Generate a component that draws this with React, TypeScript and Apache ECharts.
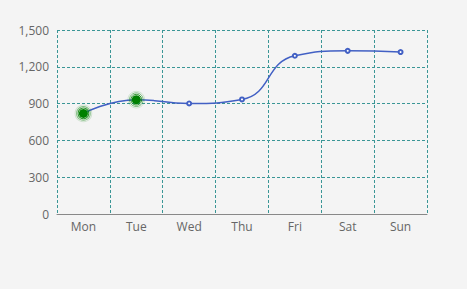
import React, { useEffect, useRef } from "react";
import * as echarts from "echarts";

const categories = ["Mon", "Tue", "Wed", "Thu", "Fri", "Sat", "Sun"];
const values = [820, 932, 901, 934, 1290, 1330, 1320];
const highlightCategories = ["Mon", "Tue"];
const highlightValues = [820, 932];

export default function App() {
  const ref = useRef<HTMLDivElement>(null);
  useEffect(() => {
    document.body.style.margin = "0";
    const chart = echarts.init(ref.current!, null, { renderer: "svg" });
    const split = { show: true, lineStyle: { color: "#3a9696", type: [3, 2] as any } };
    chart.setOption({
      animation: false,
      backgroundColor: "#f4f4f4",
      grid: { left: 57, right: 40, top: 30, bottom: 75 },
      xAxis: {
        type: "category",
        data: categories,
        boundaryGap: true,
        axisLine: { lineStyle: { color: "#888" } },
        axisTick: { lineStyle: { color: "#888" } },
        axisLabel: { color: "#666", fontSize: 12, fontFamily: "Open Sans", margin: 6 },
        splitLine: split,
      },
      yAxis: {
        type: "value",
        min: 0,
        max: 1500,
        interval: 300,
        axisLine: { show: false },
        axisTick: { show: false },
        axisLabel: { color: "#666", fontSize: 12, fontFamily: "Open Sans" },
        splitLine: split,
      },
      series: [
        {
          type: "line",
          data: values,
          smooth: true,
          symbol: "emptyCircle",
          symbolSize: 4,
          itemStyle: { color: "#4260c4" },
          lineStyle: { color: "#4260c4", width: 1.5 },
        },
        {
          type: "effectScatter",
          data: highlightCategories.map((c, i) => [c, highlightValues[i]]),
          symbolSize: 9,
          itemStyle: { color: "#008000" },
          rippleEffect: { scale: 2, brushType: "stroke" },
          z: 3,
        },
      ],
    });
    return () => chart.dispose();
  }, []);
  return <div ref={ref} style={{ width: 467, height: 289 }} />;
}
